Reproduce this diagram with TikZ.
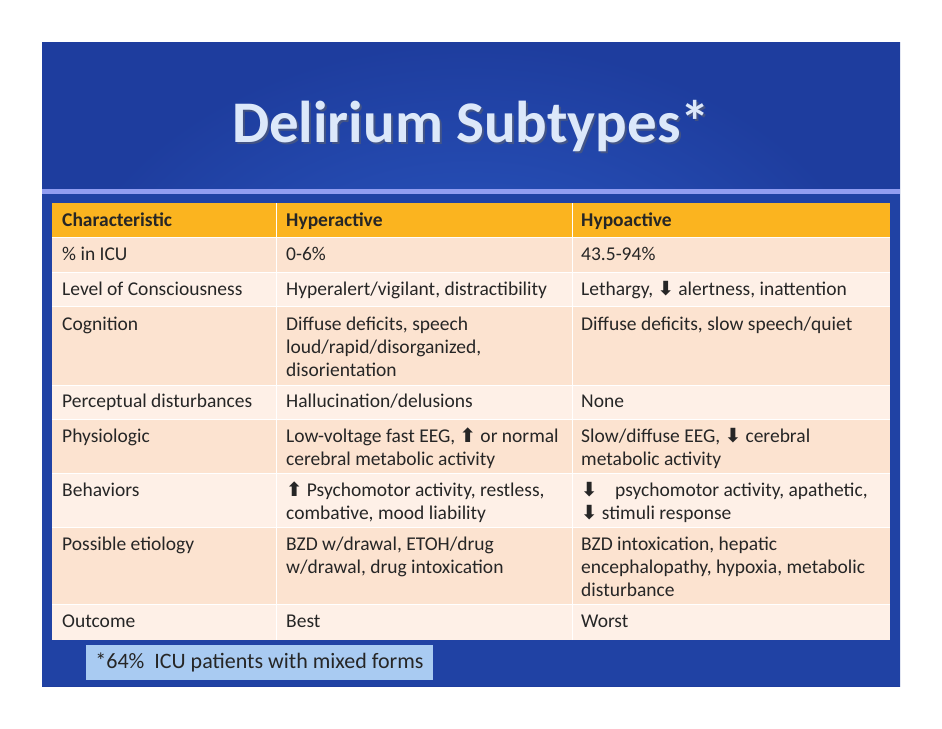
\documentclass[tikz,border=0pt]{standalone}
\usepackage{fontspec}
\setmainfont{Carlito}
\newfontfamily\dvs{DejaVu Sans}
\definecolor{bgA}{HTML}{2D5CC8}
\definecolor{bgB}{HTML}{1E3D9E}
\definecolor{hdr}{HTML}{FBB41F}
\definecolor{rowA}{HTML}{FCE3D0}
\definecolor{rowB}{HTML}{FEF0E7}
\definecolor{ttl}{HTML}{DCE8FA}
\definecolor{foot}{HTML}{A9CBF2}
\newcommand{\up}{{\dvs\bfseries ⬆}}
\newcommand{\dn}{{\dvs\bfseries ⬇}}
\newcommand{\ml}[1]{\begin{tabular}[t]{@{}l@{}}#1\end{tabular}}
\tikzset{cell/.style={anchor=base west,inner sep=0pt,font=\fontsize{19.5}{23}\selectfont,text=black!85}}
\begin{document}
\begin{tikzpicture}[x=1pt,y=-1pt]
\useasboundingbox (0,0) rectangle (942,728);
\fill[white] (0,0) rectangle (942,728);
\shade[inner color=bgA,outer color=bgB] (42,42) rectangle (900,686);
\fill[bgB!85!bgA] (42,194) rectangle (900,686);
\fill[blue!30!white!75!bgA] (42,189) rectangle (900,194);
\path (473,128) node[font=\fontsize{59}{64}\selectfont\bfseries,text=black!60,text opacity=0.5] {Delirium Subtypes*};
\node[font=\fontsize{59}{64}\selectfont\bfseries,text=ttl] (title) at (471,126) {Delirium Subtypes*};
% rows
\fill[hdr] (52,203) rectangle (890,237);
\foreach \a/\b/\c in {237/272/rowA,272/306/rowB,306/385/rowA,385/419/rowB,419/473/rowA,473/527/rowB,527/604/rowA,604/640/rowB}
  \fill[\c] (52,\a) rectangle (890,\b);
\foreach \y in {237,272,306,385,419,473,527,604}
  \draw[white,line width=1pt] (52,\y) -- (890,\y);
\foreach \x in {276,572}
  \draw[white,line width=1pt] (\x,203) -- (\x,640);
% header
\node[cell,font=\fontsize{19.5}{23}\selectfont\bfseries] (h1) at (62,226) {Characteristic};
\node[cell,font=\fontsize{19.5}{23}\selectfont\bfseries] (h2) at (286,226) {Hyperactive};
\node[cell,font=\fontsize{19.5}{23}\selectfont\bfseries] (h3) at (581,226) {Hypoactive};
% body
\node[cell] (a1) at (62,260) {\% in ICU};
\node[cell] (a2) at (286,260) {0-6\%};
\node[cell] (a3) at (581,260) {43.5-94\%};
\node[cell] (b1) at (62,295) {Level of Consciousness};
\node[cell] (b2) at (286,295) {Hyperalert/vigilant, distractibility};
\node[cell] (b3) at (581,295) {Lethargy, \dn\ alertness, inattention};
\node[cell] (c1) at (62,330) {Cognition};
\node[cell] (c2) at (286,330) {\ml{Diffuse deficits, speech\\loud/rapid/disorganized,\\disorientation}};
\node[cell] (c3) at (581,330) {Diffuse deficits, slow speech/quiet};
\node[cell] (d1) at (62,407) {Perceptual disturbances};
\node[cell] (d2) at (286,407) {Hallucination/delusions};
\node[cell] (d3) at (581,407) {None};
\node[cell] (e1) at (62,442) {Physiologic};
\node[cell] (e2) at (286,442) {\ml{Low-voltage fast EEG, \up\ or normal\\cerebral metabolic activity}};
\node[cell] (e3) at (581,442) {\ml{Slow/diffuse EEG, \dn\ cerebral\\metabolic activity}};
\node[cell] (f1) at (62,496) {Behaviors};
\node[cell] (f2) at (286,496) {\ml{\up\ Psychomotor activity, restless,\\combative, mood liability}};
\node[cell] (f3) at (581,496) {\ml{\dn\ \ \ \ psychomotor activity, apathetic,\\\dn\ stimuli response}};
\node[cell] (g1) at (62,550) {Possible etiology};
\node[cell] (g2) at (286,550) {\ml{BZD w/drawal, ETOH/drug\\w/drawal, drug intoxication}};
\node[cell] (g3) at (581,550) {\ml{BZD intoxication, hepatic\\encephalopathy, hypoxia, metabolic\\disturbance}};
\node[cell] (h1b) at (62,627) {Outcome};
\node[cell] (h2b) at (286,627) {Best};
\node[cell] (h3b) at (581,627) {Worst};
% footnote
\fill[foot] (86,645) rectangle (433,680);
\node[font=\fontsize{22}{26}\selectfont,text=black!85] (fn) at (259.5,662) {*64\%\ \ ICU patients with mixed forms};
\end{tikzpicture}
\end{document}
